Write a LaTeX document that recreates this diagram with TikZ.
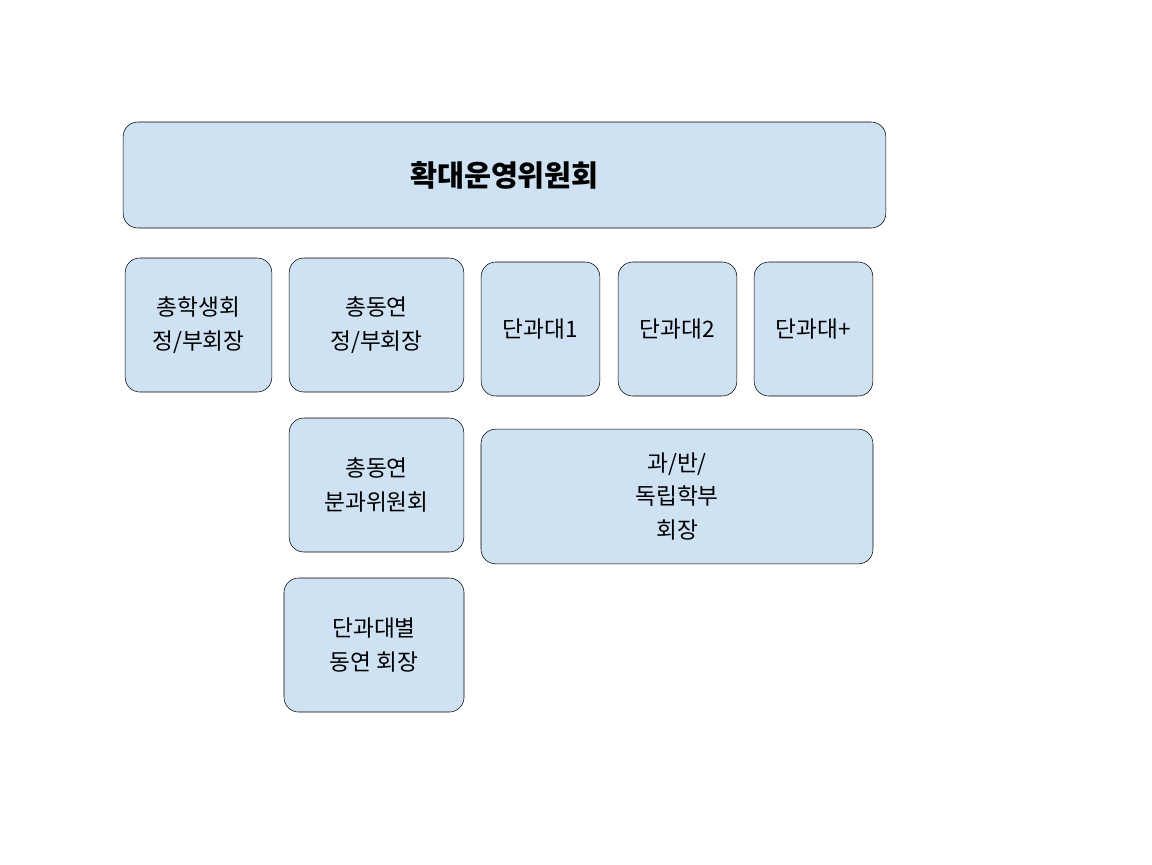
\documentclass[tikz,border=0pt]{standalone}
\usepackage{fontspec}
\setmainfont{Noto Sans CJK KR}
\definecolor{boxblue}{HTML}{CFE2F3}
\tikzset{
  orgbox/.style={draw=black, fill=boxblue, rounded corners=11pt, align=center,
    inner sep=0pt, font=\fontsize{17}{25}\selectfont},
}
\begin{document}
\begin{tikzpicture}[x=0.75pt, y=-0.75pt]
    % Canvas
    \useasboundingbox (0,0) rectangle (1152,864);

    % Top committee
    \node[orgbox, minimum width=572pt, minimum height=79.5pt,
      font=\fontsize{22}{28}\selectfont\bfseries] (council) at (504.5,175) {확대운영위원회};

    % First row
    \node[orgbox, minimum width=110pt, minimum height=100.5pt] (student) at (198.5,325) {총학생회\\정/부회장};
    \node[orgbox, minimum width=131pt, minimum height=100.5pt] (clubhead) at (376.5,325) {총동연\\정/부회장};
    \node[orgbox, minimum width=89pt, minimum height=100.5pt] (college1) at (540.5,329) {단과대1};
    \node[orgbox, minimum width=89pt, minimum height=100.5pt] (college2) at (677.5,329) {단과대2};
    \node[orgbox, minimum width=89pt, minimum height=100.5pt] (collegeplus) at (813.5,329) {단과대+};

    % Second row
    \node[orgbox, minimum width=131pt, minimum height=100.5pt] (clubcommittee) at (376.5,485) {총동연\\분과위원회};
    \node[orgbox, minimum width=294pt, minimum height=101pt] (dept) at (677,496.5) {과/반/\\독립학부\\회장};

    % Third row
    \node[orgbox, minimum width=135pt, minimum height=100.5pt] (collegeclub) at (374,645) {단과대별\\동연 회장};
\end{tikzpicture}
\end{document}
